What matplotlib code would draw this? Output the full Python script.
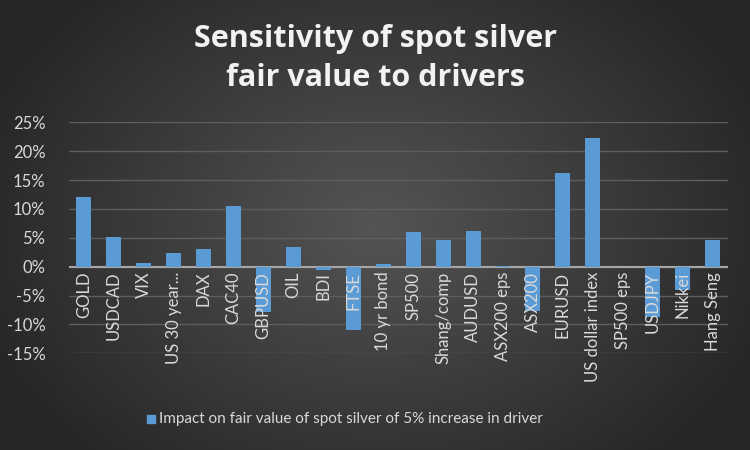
import numpy as np
import matplotlib.pyplot as plt

categories = ["GOLD", "USDCAD", "VIX", "US 30 year...", "DAX", "CAC40", "GBPUSD",
              "OIL", "BDI", "FTSE", "10 yr bond", "SP500", "Shang/comp", "AUDUSD",
              "ASX200 eps", "ASX200", "EURUSD", "US dollar index", "SP500 eps",
              "USDJPY", "Nikkei", "Hang Seng"]
impact = [12.0, 5.1, 0.6, 2.4, 3.1, 10.5, -7.8, 3.4, -0.5, -10.9, 0.45, 6.0, 4.6,
          6.2, 0.1, -7.6, 16.2, 22.3, 0.0, -8.8, -4.0, 4.6]
yticks = [-15, -10, -5, 0, 5, 10, 15, 20, 25]

FONT = "Lato"
TXT = "#d9d9d9"

fig = plt.figure(figsize=(7.5, 4.5), dpi=100)

# radial background
bg = fig.add_axes([0, 0, 1, 1], zorder=-10)
xx, yy = np.meshgrid(np.linspace(-1, 1, 750), np.linspace(-1, 1, 450))
r = np.sqrt((xx * 0.95) ** 2 + (yy * 0.75) ** 2)
shade = np.clip(0.33 - 0.17 * r, 0.15, 0.34)
bg.imshow(np.dstack([shade] * 3), aspect="auto", extent=[0, 1, 0, 1])
bg.axis("off")

ax = fig.add_axes([0.092, 0.2149, 0.878, 0.5133])
ax.patch.set_alpha(0)
x = np.arange(len(categories))
ax.bar(x, impact, width=0.5, color="#5b9bd5", zorder=3)
ax.axhline(0, color="#a6a6a6", lw=1.5, zorder=2)
ax.set_xlim(-0.5, len(categories) - 0.5)
ax.set_ylim(-15, 25)
ax.set_yticks(yticks)
ax.set_yticklabels([f"{t}%" for t in yticks], fontfamily=FONT, fontsize=12, color=TXT)
ax.tick_params(axis="y", length=0, pad=17)
ax.set_xticks([])
ax.grid(axis="y", color="#5e5e5e", lw=1, zorder=0)
for s in ax.spines.values():
    s.set_visible(False)

for i, c in enumerate(categories):
    ax.text(i, -0.9, c, rotation=90, ha="center", va="top", fontfamily=FONT,
            fontsize=12, color=TXT, zorder=6)

fig.text(0.5, 0.8956, "Sensitivity of spot silver", ha="center", va="baseline",
         fontfamily="Open Sans", fontsize=22, fontweight="bold", color="#f2f2f2")
fig.text(0.5, 0.809, "fair value to drivers", ha="center", va="baseline",
         fontfamily="Open Sans", fontsize=22, fontweight="bold", color="#f2f2f2")

fig.patches.append(plt.Rectangle((0.196, 0.06), 0.011, 0.018, transform=fig.transFigure,
                                 color="#5b9bd5", figure=fig))
fig.text(0.212, 0.068, "Impact on fair value of spot silver of 5% increase in driver",
         ha="left", va="center", fontfamily=FONT, fontsize=11, color=TXT)

fig.savefig("out.png", dpi=100)
